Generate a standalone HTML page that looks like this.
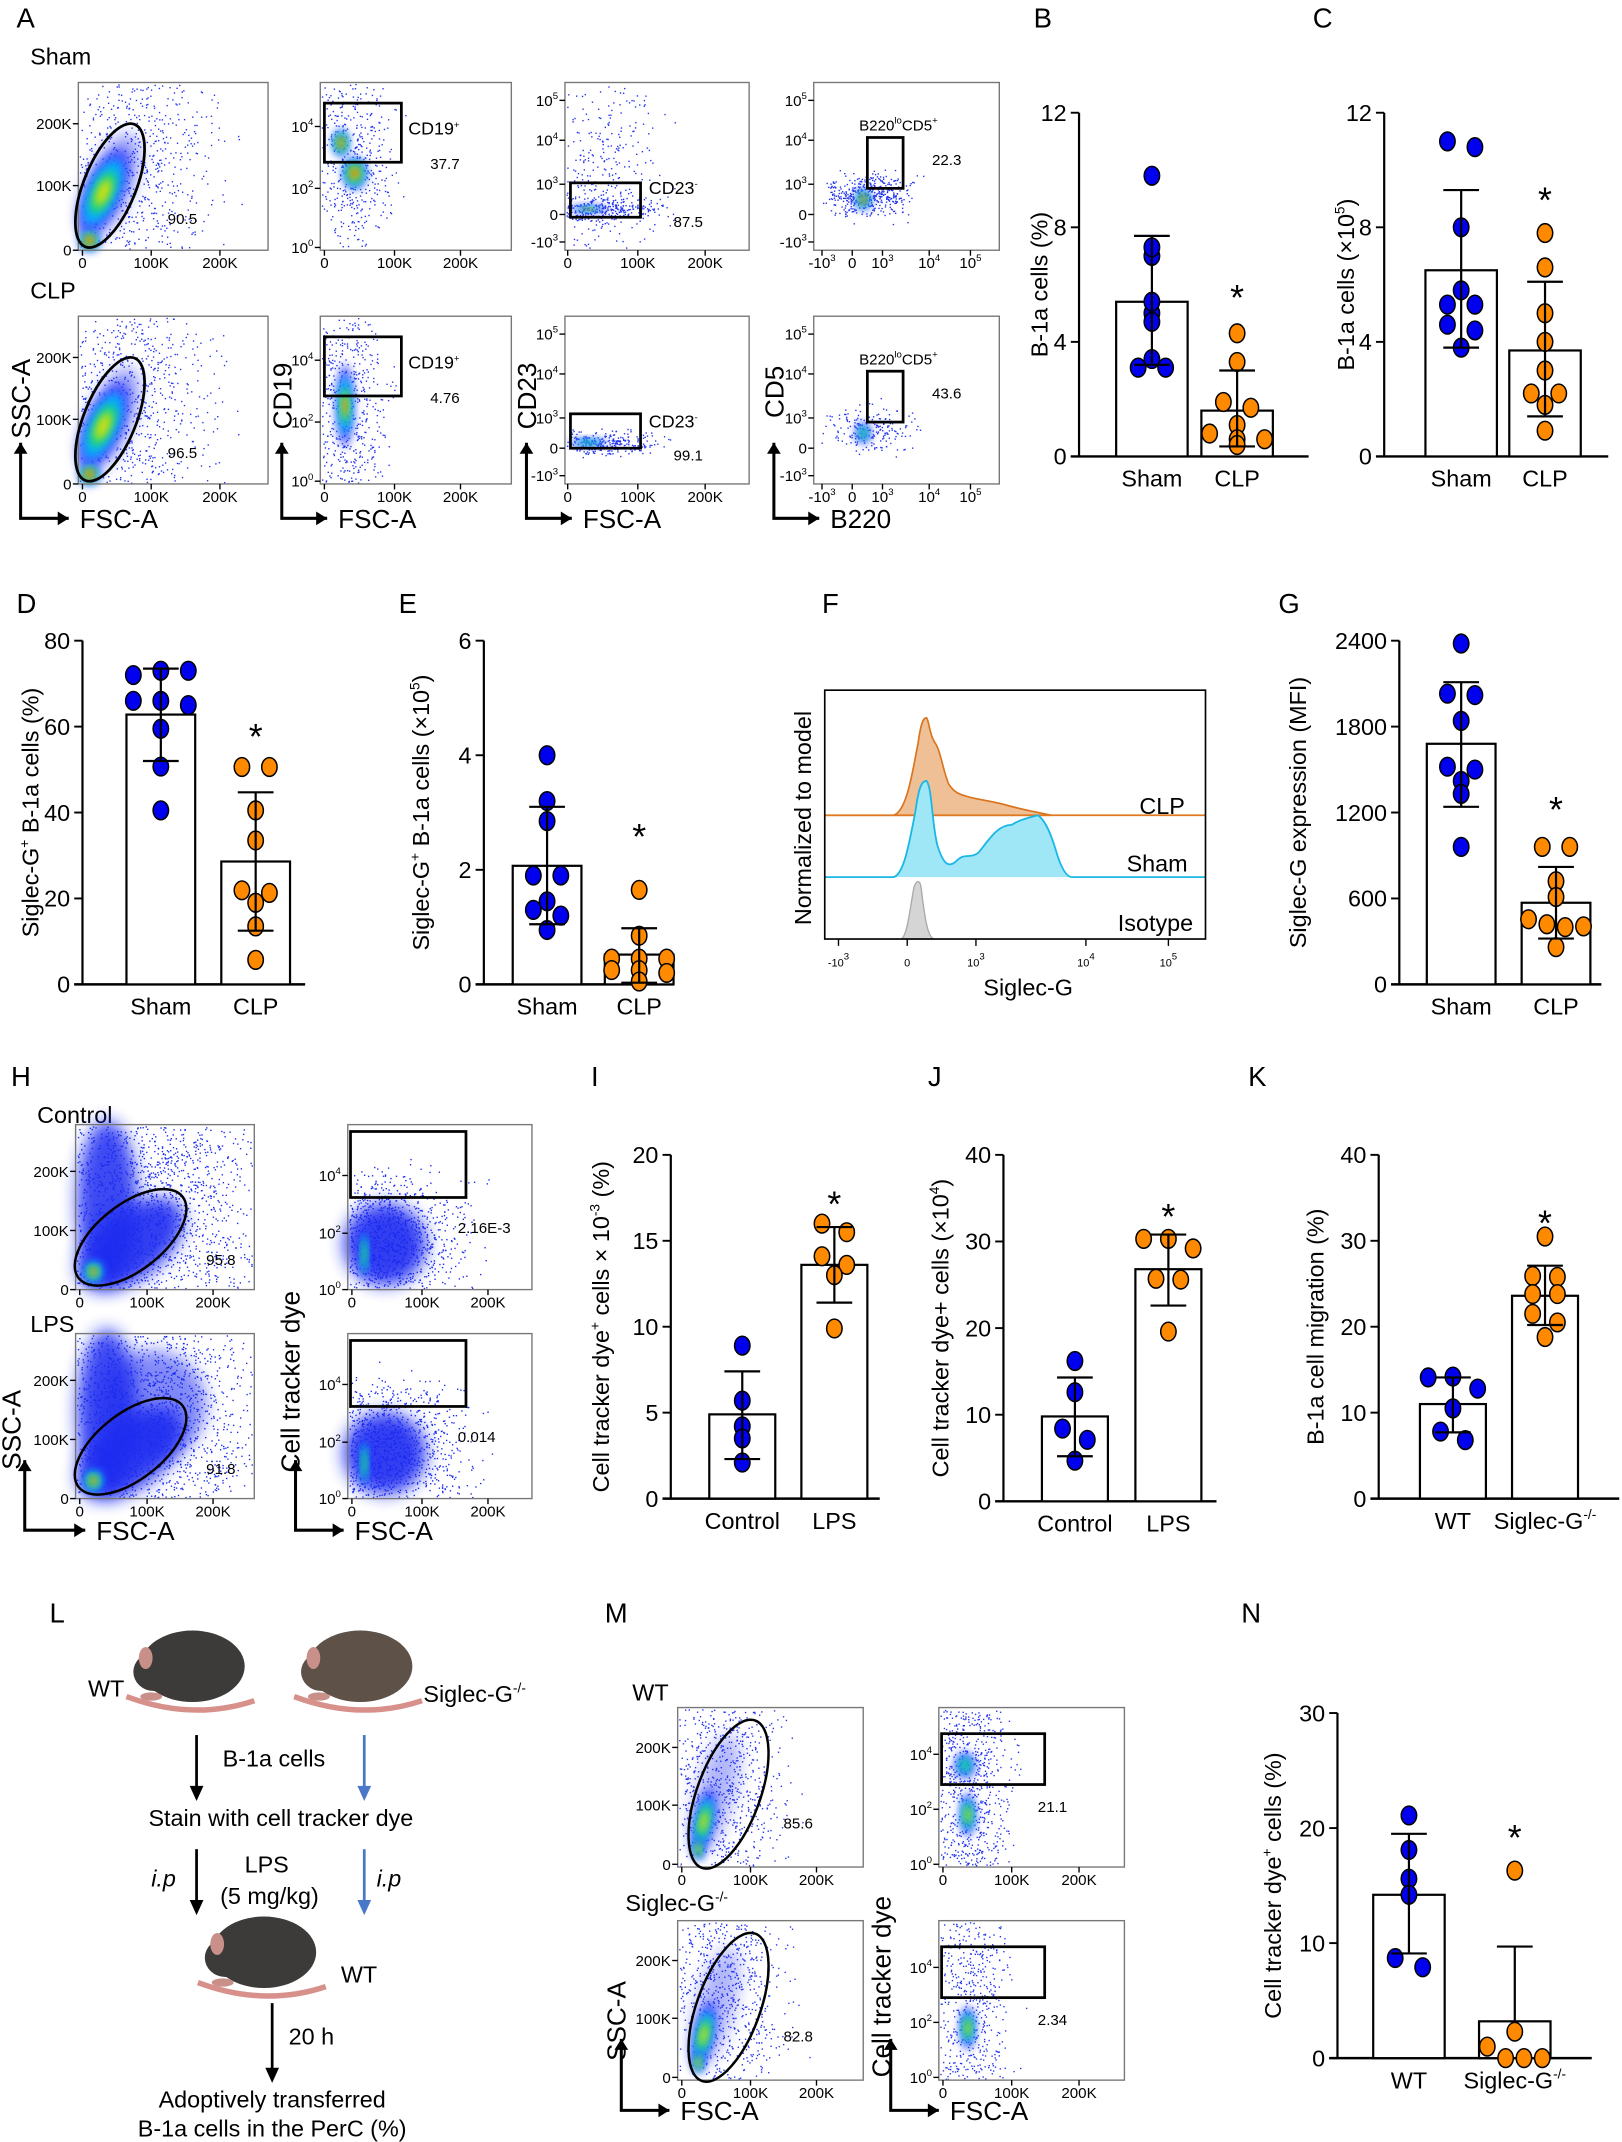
<!DOCTYPE html>
<html><head><meta charset="utf-8">
<style>
html,body{margin:0;padding:0;background:#fff;}
svg{display:block;font-family:"Liberation Sans",Arial,sans-serif;}
</style></head>
<body>
<svg id="fig" xmlns="http://www.w3.org/2000/svg" width="1622" height="2142" viewBox="0 0 1180 1558" preserveAspectRatio="none">
<defs>
<filter id="blur3" x="-50%" y="-50%" width="200%" height="200%"><feGaussianBlur stdDeviation="3"/></filter>
<filter id="blur6" x="-50%" y="-50%" width="200%" height="200%"><feGaussianBlur stdDeviation="6"/></filter>
</defs>
<g id="root"></g>
</svg>
<script>
// ---------------- DATA ----------------
const catsBC = ["Sham","CLP"];
const bSham = [9.8,7.0,7.3,5.0,5.4,4.7,3.4,3.1,3.1];
const bClp  = [4.3,3.3,1.9,1.7,1.1,0.8,0.6,0.6,0.4];
const bMean = [5.4,1.6]; const bHi=[7.7,3.0]; const bLo=[3.2,0.35];
const bTicks=[0,4,8,12];

const cSham=[11.0,10.8,8.0,5.8,5.3,5.3,4.6,4.4,3.8];
const cClp=[7.8,6.6,5.0,4.0,3.0,2.2,2.2,1.8,0.9];
const cMean=[6.5,3.7]; const cHi=[9.3,6.1]; const cLo=[3.8,1.4];
const cTicks=[0,4,8,12];

const dSham=[72,73,73,66,66,65,59.5,50.7,40.5];
const dClp=[50.6,50.6,40.5,33.5,21.9,21.3,19,13.5,5.7];
const dMean=[62.8,28.6]; const dHi=[73.5,44.7]; const dLo=[52,12.5];
const dTicks=[0,20,40,60,80];

const eSham=[4.0,3.2,2.85,1.9,1.9,1.45,1.3,1.2,0.95];
const eClp=[1.65,0.85,0.45,0.45,0.45,0.25,0.25,0.2,0.05];
const eMean=[2.07,0.52]; const eHi=[3.1,0.98]; const eLo=[1.05,0.03];
const eTicks=[0,2,4,6];

const gSham=[2380,2030,2020,1840,1520,1420,1500,1330,960];
const gClp=[960,960,720,610,455,420,400,405,260];
const gMean=[1680,570]; const gHi=[2110,820]; const gLo=[1240,320];
const gTicks=[0,600,1200,1800,2400];

const catsIJ=["Control","LPS"];
const iCtrl=[8.9,5.7,4.2,3.5,2.1];
const iLps=[16,15.5,14.1,13.6,13,9.9];
const iMean=[4.9,13.6]; const iHi=[7.4,15.8]; const iLo=[2.3,11.4];
const iTicks=[0,5,10,15,20];

const jCtrl=[16.2,12.6,8.4,7.1,4.7];
const jLps=[30.3,30.3,29.2,25.7,25.6,19.6];
const jMean=[9.8,26.8]; const jHi=[14.3,30.8]; const jLo=[5.2,22.6];
const jTicks=[0,10,20,30,40];

const catsKN=["WT","Siglec-G"];
const kWt=[14.1,14.2,12.8,10.5,7.8,6.8];
const kKo=[30.5,25.9,25.8,23.8,23.8,21.5,20.5,18.8];
const kMean=[11,23.6]; const kHi=[14.1,27.1]; const kLo=[7.7,20.2];
const kTicks=[0,10,20,30,40];

const nWt=[21.1,18.1,15.6,14.2,8.7,7.9];
const nKo=[16.3,2.3,1.0,0,0,0];
const nMean=[14.2,3.2]; const nHi=[19.5,9.7]; const nLo=[9.1,null];
const nTicks=[0,10,20,30];

// ---------------- helpers ----------------
const NS="http://www.w3.org/2000/svg";
const root=document.getElementById('root');
function mk(tag,attrs,parent,txt){const e=document.createElementNS(NS,tag);for(const k in attrs)e.setAttribute(k,attrs[k]);if(txt!==undefined)e.textContent=txt;(parent||root).appendChild(e);return e;}
function text(x,y,s,size,parent,anchor,extra){const t=mk('text',Object.assign({x:x,y:y,'font-size':size,'text-anchor':anchor||'start'},extra||{}),parent,s);return t;}

function jitter(vals,span,thr){
  const n=vals.length;const off=new Array(n).fill(0);const used=new Array(n).fill(false);
  for(let i=0;i<n;i++){if(used[i])continue;const grp=[i];used[i]=true;
    for(let j=i+1;j<n;j++){if(!used[j]&&Math.abs(vals[j]-vals[i])<=thr){grp.push(j);used[j]=true;}}
    const m=grp.length;
    if(m===2){off[grp[0]]=-span/2;off[grp[1]]=span/2;}
    if(m>=3){grp.forEach((g,k)=>{off[g]=-span+k*(2*span/(m-1));});}
  }
  return off;
}

function barChart(o){
  const g=mk('g',{});
  
  
  const y=v=>o.y0-(v/o.max)*(o.y0-o.yTop);
  const ya=mk('line',{x1:o.ax,y1:o.yTop,x2:o.ax,y2:o.y0,stroke:'#000','stroke-width':1.6},g);
  
  const xa=mk('line',{x1:o.ax-6,y1:o.y0,x2:o.xend,y2:o.y0,stroke:'#000','stroke-width':1.8},g);
  
  o.ticks.forEach(t=>{
    mk('line',{x1:o.ax-6,y1:y(t),x2:o.ax,y2:y(t),stroke:'#000','stroke-width':1.4},g);
    const tl=text(o.ax-9,y(t)+6,String(t),17,g,'end');
    
  });
  const yl=mk('text',{x:0,y:0,'font-size':17,'text-anchor':'middle',transform:`translate(${o.ylx},${(o.yTop+o.y0)/2+(o.yloff||0)}) rotate(-90)`},g);
  yl.innerHTML=o.ylabel;
  
  const cols=['#0000ee','#ff8a00'];
  o.groups.forEach((vals,gi)=>{
    const cx=o.centers[gi];const bw=o.bw;
    const bar=mk('rect',{x:cx-bw/2,y:y(o.mean[gi]),width:bw,height:o.y0-y(o.mean[gi]),fill:'#fff',stroke:'#000','stroke-width':1.6},g);
    
    const off=jitter(vals,o.jit||14,o.thr);
    vals.forEach((v,k)=>{
      const d=mk('ellipse',{cx:cx+off[k],cy:y(v),rx:5.6,ry:6.8,fill:cols[gi],stroke:'#000','stroke-width':1.1},g);
      
    });
    const hi=o.hi[gi],lo=o.lo[gi];
    const eb=mk('line',{x1:cx,y1:y(hi),x2:cx,y2:lo==null?y(o.mean[gi]):y(lo),stroke:'#000','stroke-width':1.6},g);
    
    mk('line',{x1:cx-13,y1:y(hi),x2:cx+13,y2:y(hi),stroke:'#000','stroke-width':1.6},g);
    if(lo!=null)mk('line',{x1:cx-13,y1:y(lo),x2:cx+13,y2:y(lo),stroke:'#000','stroke-width':1.6},g);
    const cl=mk('text',{x:cx,y:o.y0+22,'font-size':17,'text-anchor':'middle'},g);
    cl.innerHTML=o.cats[gi]+(o.sup&&gi===1?'<tspan font-size="10" dy="-7">-/-</tspan>':'');
    
  });
  const st=text(o.centers[1],y(o.star)+10,'*',26,g,'middle');
  
}

function panelLabel(s,x,y){const t=text(x,y,s,20,root);}

// ---------------- bar charts ----------------
barChart({name:'chart-b',ax:785,yTop:82,y0:332,max:12,ticks:bTicks,xend:952,centers:[838,900],bw:52,cats:catsBC,groups:[bSham,bClp],mean:bMean,hi:bHi,lo:bLo,ylabel:'B-1a cells (%)',ylx:762,star:5.6,thr:0.25,jit:20});
barChart({name:'chart-c',ax:1007,yTop:82,y0:332,max:12,ticks:cTicks,xend:1170,centers:[1063,1124],bw:52,cats:catsBC,groups:[cSham,cClp],mean:cMean,hi:cHi,lo:cLo,ylabel:'B-1a cells (×10<tspan font-size="10" dy="-7">5</tspan><tspan dy="7">)</tspan>',ylx:985,star:9.0,thr:0.35,jit:20});
barChart({name:'chart-d',ax:60,yTop:466,y0:716,max:80,ticks:dTicks,xend:222,centers:[117,186],bw:50,cats:catsBC,groups:[dSham,dClp],mean:dMean,hi:dHi,lo:dLo,ylabel:'Siglec-G<tspan font-size="10" dy="-7">+</tspan><tspan dy="7"> B-1a cells (%)</tspan>',ylx:28,star:58,thr:1.6,jit:20});
barChart({name:'chart-e',ax:352,yTop:466,y0:716,max:6,ticks:eTicks,xend:490,centers:[398,465],bw:50,cats:catsBC,groups:[eSham,eClp],mean:eMean,hi:eHi,lo:eLo,ylabel:'Siglec-G<tspan font-size="10" dy="-7">+</tspan><tspan dy="7"> B-1a cells (×10</tspan><tspan font-size="10" dy="-7">5</tspan><tspan dy="7">)</tspan>',ylx:312,star:2.6,thr:0.12,jit:20});
barChart({name:'chart-g',ax:1018,yTop:466,y0:716,max:2400,ticks:gTicks,xend:1165,centers:[1063,1132],bw:50,cats:catsBC,groups:[gSham,gClp],mean:gMean,hi:gHi,lo:gLo,ylabel:'Siglec-G expression (MFI)',ylx:950,star:1230,thr:60,jit:20});
barChart({name:'chart-i',ax:488,yTop:840,y0:1090,max:20,ticks:iTicks,xend:640,centers:[540,607],bw:48,cats:catsIJ,groups:[iCtrl,iLps],mean:iMean,hi:iHi,lo:iLo,ylabel:'Cell tracker dye<tspan font-size="10" dy="-7">+</tspan><tspan dy="7"> cells × 10</tspan><tspan font-size="10" dy="-7">-3</tspan><tspan dy="7"> (%)</tspan>',ylx:443,star:17.2,thr:0.6,jit:18});
barChart({name:'chart-j',ax:730,yTop:840,y0:1092,max:40,ticks:jTicks,xend:885,centers:[782,850],bw:48,cats:catsIJ,groups:[jCtrl,jLps],mean:jMean,hi:jHi,lo:jLo,ylabel:'Cell tracker dye+ cells (×10<tspan font-size="10" dy="-7">4</tspan><tspan dy="7">)</tspan>',ylx:690,star:33,thr:1.4,jit:18});
barChart({name:'chart-k',ax:1003,yTop:840,y0:1090,max:40,ticks:kTicks,xend:1178,centers:[1057,1124],bw:48,cats:catsKN,sup:true,groups:[kWt,kKo],mean:kMean,hi:kHi,lo:kLo,ylabel:'B-1a cell migration (%)',ylx:963,star:32.2,thr:1.5,jit:18});
barChart({name:'chart-n',ax:973,yTop:1246,y0:1497,max:30,ticks:nTicks,xend:1158,centers:[1025,1102],bw:52,cats:catsKN,sup:true,groups:[nWt,nKo],mean:nMean,hi:nHi,lo:nLo,ylabel:'Cell tracker dye<tspan font-size="10" dy="-7">+</tspan><tspan dy="7"> cells (%)</tspan>',ylx:932,star:19.3,thr:1.0,jit:20});

[['A',12,20],['B',752,20],['C',955,20],['D',12,446],['E',290,446],['F',598,446],['G',930,446],['H',8,790],['I',430,790],['J',675,790],['K',908,790],['L',36,1180],['M',440,1180],['N',903,1180]].forEach(p=>panelLabel(p[0],p[1],p[2]));

// ---------------- flow plots ----------------
let seed=7;function rnd(){seed=(seed*1103515245+12345)%2147483648;return seed/2147483648;}
function scatter(g,x0,y0,w,h,cx,cy,sx,sy,n,col){
  for(let i=0;i<n;i++){const u=(rnd()+rnd()+rnd()-1.5)*sx,v=(rnd()+rnd()+rnd()-1.5)*sy;
    const px=cx+u,py=cy+v;if(px<x0+1||px>x0+w-1||py<y0+1||py>y0+h-1)continue;
    mk('rect',{x:px,y:py,width:1,height:1,fill:col},g);}
}
function blob(g,cx,cy,rx,ry,rot,layers){
  const cs=['#3344ff','#00b4ff','#22dd66','#f0e000','#ff2000'];
  layers.forEach((s,k)=>{mk('ellipse',{cx:cx,cy:cy,rx:rx*s,ry:ry*s,transform:`rotate(${rot} ${cx} ${cy})`,fill:cs[k],opacity:k===0?0.75:0.9,filter:'url(#blur3)'},g);});
}
function blueFill(g,cx,cy,rx,ry,rot,op){mk('ellipse',{cx:cx,cy:cy,rx:rx,ry:ry,transform:`rotate(${rot} ${cx} ${cy})`,fill:'#1a2cf0',opacity:op,filter:'url(#blur6)'},g);}
function flowFrame(name){const g=mk('g',{});return g;}
function drawFrame(g,x,y,w,h){mk('rect',{x:x,y:y,width:w,height:h,fill:'none',stroke:'#777','stroke-width':1},g);}
function ticksY(g,x,labels){labels.forEach(l=>{mk('line',{x1:x-4,y1:l[1],x2:x,y2:l[1],stroke:'#000','stroke-width':1},g);const t=mk('text',{x:x-5,y:l[1]+4,'font-size':11,'text-anchor':'end'},g);t.innerHTML=l[0];});}
function ticksX(g,y,labels){labels.forEach(l=>{mk('line',{x1:l[1],y1:y,x2:l[1],y2:y+4,stroke:'#000','stroke-width':1},g);const t=mk('text',{x:l[1],y:y+13,'font-size':11,'text-anchor':'middle'},g);t.innerHTML=l[0];});}
const P='<tspan font-size="7" dy="-5">';const E='</tspan><tspan dy="5"></tspan>';
function axArrow(g,x,yTop,yB,xR,lab1,size){
  mk('path',{d:`M${x},${yTop} L${x},${yB} L${xR},${yB}`,fill:'none',stroke:'#000','stroke-width':2.2},g);
  mk('path',{d:`M${x-5},${yTop+8} L${x},${yTop} L${x+5},${yTop+8} z`,fill:'#000'},g);
  mk('path',{d:`M${xR-8},${yB-5} L${xR},${yB} L${xR-8},${yB+5} z`,fill:'#000'},g);
  text(xR+8,yB+7,lab1,size||19,g);
}
function ylab(g,x,y,s,size){mk('text',{x:0,y:0,'font-size':size||19,'text-anchor':'middle',transform:`translate(${x},${y}) rotate(-90)`},g,s);}

// Panel A
text(22,47,'Sham',17,root);
text(22,217,'CLP',17,root);
[0,170].forEach((dy,row)=>{
  let g=flowFrame('flow-ssc-fsc');
  scatter(g,57,60+dy,138,122,95,125+dy,60,90,900,'#2233ee');
  blueFill(g,80,135+dy,16,40,22,0.5);
  blob(g,75,140+dy,14,34,25,[1,0.75,0.5,0.3]);blob(g,65,175+dy,8,8,0,[1,0.8,0.6,0.45,0.3]);
  drawFrame(g,57,60+dy,138,122);
  mk('ellipse',{cx:80,cy:135+dy,rx:19,ry:48,transform:`rotate(22 80 ${135+dy})`,fill:'none',stroke:'#000','stroke-width':2},g);
  text(122,163+dy,row?'96.5':'90.5',11,g);
  ticksY(g,57,[['200K',90+dy],['100K',135+dy],['0',182+dy]]);
  ticksX(g,182+dy,[['0',60],['100K',110],['200K',160]]);
  g=flowFrame('flow-cd19');
  if(!row){scatter(g,233,60+dy,139,122,255,120+dy,30,60,500,'#2233ee');blob(g,248,104+dy,6,10,0,[1,0.8,0.6,0.4,0.25]);blob(g,258,126+dy,9,12,0,[1,0.8,0.6,0.4,0.25]);}
  else{scatter(g,233,60+dy,139,122,253,295,28,80,600,'#2233ee');blob(g,251,295,7,30,0,[1,0.7,0.45,0.3,0.15]);}
  drawFrame(g,233,60+dy,139,122);
  mk('rect',{x:236,y:75+dy,width:56,height:43,fill:'none',stroke:'#000','stroke-width':2},g);
  const c19=text(297,98+dy,'CD19',13,g);c19.innerHTML='CD19'+P+'+</tspan>';
  text(313,123+dy,row?'4.76':'37.7',11,g);
  ticksY(g,233,[['10'+P+'4'+E,92+dy],['10'+P+'2'+E,137+dy],['10'+P+'0'+E,180+dy]]);
  ticksX(g,182+dy,[['0',236],['100K',287],['200K',335]]);
  g=flowFrame('flow-cd23');
  if(!row){scatter(g,411,60+dy,134,122,440,130+dy,40,70,350,'#2233ee');}
  scatter(g,411,60+dy,134,122,440,152+dy,40,8,300,'#2233ee');
  blob(g,428,152+dy,14,3,0,row?[1,0.7,0.4]:[1,0.6,0.4,0.3,0.2]);
  drawFrame(g,411,60+dy,134,122);
  mk('rect',{x:415,y:133+dy-(row?2:0),width:51,height:25,fill:'none',stroke:'#000','stroke-width':2},g);
  const c23=text(472,141+dy,'',13,g);c23.innerHTML='CD23'+P+'-</tspan>';
  text(490,165+dy,row?'99.1':'87.5',11,g);
  ticksY(g,411,[['10'+P+'5'+E,73+dy],['10'+P+'4'+E,102+dy],['10'+P+'3'+E,134+dy],['0',156+dy],['-10'+P+'3'+E,176+dy]]);
  ticksX(g,182+dy,[['0',413],['100K',464],['200K',513]]);
  g=flowFrame('flow-b220-cd5');
  scatter(g,592,60+dy,135,122,632,142+dy,30,16,row?200:450,'#2233ee');
  blob(g,628,145+dy,6,8,0,row?[1,0.6,0.4]:[1,0.7,0.5,0.35,0.25]);
  drawFrame(g,592,60+dy,135,122);
  mk('rect',{x:631,y:100+dy,width:26,height:37,fill:'none',stroke:'#000','stroke-width':2},g);
  const bc=text(625,95+dy,'',11,g);bc.innerHTML='B220'+P+'lo</tspan><tspan dy="5">CD5</tspan>'+P+'+</tspan>';
  text(678,120+dy,row?'43.6':'22.3',11,g);
  ticksY(g,592,[['10'+P+'5'+E,73+dy],['10'+P+'4'+E,102+dy],['10'+P+'3'+E,134+dy],['0',156+dy],['-10'+P+'3'+E,176+dy]]);
  ticksX(g,182+dy,[['-10'+P+'3'+E,598],['0',620],['10'+P+'3'+E,642],['10'+P+'4'+E,676],['10'+P+'5'+E,706]]);
});
{const g=mk('g',{});
 axArrow(g,15,322,377,50,'FSC-A');ylab(g,22,290,'SSC-A');
 axArrow(g,205,322,377,238,'FSC-A');ylab(g,212,288,'CD19');
 axArrow(g,383,322,377,416,'FSC-A');ylab(g,390,288,'CD23');
 axArrow(g,563,322,377,596,'B220');ylab(g,570,285,'CD5');}

// Panel F histogram
{const g=mk('g',{});
 const x0=600,x1=877,yT=502,yB=683;
 mk('path',{d:'M600,593 L650,593 C660,590 664,560 668,540 C670,525 672,522 674,522 C676,524 676,534 680,540 C684,545 686,560 690,570 C695,578 700,578 706,580 C715,582 722,583 730,585 C740,588 750,590 765,593 Z',fill:'#efbf95',stroke:'#d9731e','stroke-width':1.2},g);
 mk('line',{x1:600,y1:593,x2:877,y2:593,stroke:'#e07a22','stroke-width':1.3},g);
 mk('path',{d:'M600,638 L650,638 C658,636 662,610 666,590 C668,575 670,568 674,568 C678,572 678,600 682,615 C686,628 690,632 696,626 C702,620 706,625 712,620 C720,610 726,600 736,600 C742,596 748,595 755,593 C760,596 764,605 768,618 C772,632 776,638 780,638 L877,638',fill:'#9fe6f7',stroke:'#19b7e6','stroke-width':1.3},g);
 mk('path',{d:'M655,683 C660,683 662,660 665,645 C667,640 669,640 670,645 C672,660 674,683 680,683 Z',fill:'#d5d5d5',stroke:'#aaa','stroke-width':1},g);
 mk('rect',{x:x0,y:yT,width:x1-x0,height:yB-yT,fill:'none',stroke:'#000','stroke-width':1.2},g);
 text(862,592,'CLP',17,g,'end');text(864,634,'Sham',17,g,'end');text(868,677,'Isotype',17,g,'end');
 [['-10'+P+'3'+E,610],['0',660],['10'+P+'3'+E,710],['10'+P+'4'+E,790],['10'+P+'5'+E,850]].forEach(l=>{const t=mk('text',{x:l[1],y:703,'font-size':8,'text-anchor':'middle'},g);t.innerHTML=l[0];mk('line',{x1:l[1],y1:683,x2:l[1],y2:688,stroke:'#000'},g);});
 text(748,724,'Siglec-G',17,g,'middle');ylab(g,590,595,'Normalized to model',17);}

// Panel H
text(27,817,'Control',17,root);
text(22,969,'LPS',17,root);
[0,152].forEach((dy,row)=>{
  let g=flowFrame('flow-h-ssc-fsc');
  scatter(g,55,818+dy,130,120,100,880+dy,90,110,2500,'#1a2cf0');
  blueFill(g,78,875+dy,22,60,0,0.85);
  blueFill(g,95,905+dy,45,25,-38,0.9);
  if(row)blueFill(g,110,870+dy,40,40,0,0.55);
  blob(g,68,925+dy,8,9,0,[1,0.8,0.55,0.35,0.2]);
  drawFrame(g,55,818+dy,130,120);
  mk('ellipse',{cx:95,cy:900+dy,rx:48,ry:24,transform:`rotate(-38 95 ${900+dy})`,fill:'none',stroke:'#000','stroke-width':1.8},g);
  text(150,920+dy,row?'91.8':'95.8',11,g);
  ticksY(g,55,[['200K',852+dy],['100K',895+dy],['0',938+dy]]);
  ticksX(g,938+dy,[['0',58],['100K',107],['200K',155]]);
  g=flowFrame('flow-h-tracker');
  scatter(g,253,818+dy,134,120,275,905+dy,60,50,1500,'#1a2cf0');
  blueFill(g,280,905+dy,30,30,0,0.9);
  blob(g,265,912+dy,3,18,0,[1,0.8,0.6]);
  drawFrame(g,253,818+dy,134,120);
  mk('rect',{x:255,y:823+dy,width:84,height:48,fill:'none',stroke:'#000','stroke-width':2},g);
  text(333,897+dy,row?'0.014':'2.16E-3',11,g);
  ticksY(g,253,[['10'+P+'4'+E,855+dy],['10'+P+'2'+E,897+dy],['10'+P+'0'+E,938+dy]]);
  ticksX(g,938+dy,[['0',256],['100K',307],['200K',355]]);
});
{const g=mk('g',{});
 axArrow(g,18,1062,1113,62,'FSC-A');ylab(g,15,1040,'SSC-A');
 axArrow(g,215,1062,1113,250,'FSC-A');ylab(g,218,1005,'Cell tracker dye');}

// Panel M
text(460,1237,'WT',17,root);
const mko=text(455,1390,'',17,root);mko.innerHTML='Siglec-G<tspan font-size="10" dy="-7">-/-</tspan>';
[0,155].forEach((dy,row)=>{
  let g=flowFrame('flow-m-ssc-fsc');
  scatter(g,493,1242+dy,135,116,525,1300+dy,45,110,1100,'#2233ee');
  blueFill(g,520,1305+dy,14,45,15,0.35);
  blob(g,512,1325+dy,8,25,12,[1,0.7,0.5,0.3]);blob(g,508,1345+dy,4,8,0,[1,0.8,0.6,0.45]);
  drawFrame(g,493,1242+dy,135,116);
  mk('ellipse',{cx:530,cy:1305+dy,rx:23,ry:57,transform:`rotate(20 530 ${1305+dy})`,fill:'none',stroke:'#000','stroke-width':1.8},g);
  text(570,1330+dy,row?'82.8':'85.6',11,g);
  ticksY(g,493,[['200K',1271+dy],['100K',1313+dy],['0',1356+dy]]);
  ticksX(g,1358+dy,[['0',496],['100K',546],['200K',594]]);
  g=flowFrame('flow-m-tracker');
  scatter(g,683,1242+dy,135,116,705,1305+dy,30,100,row?700:1000,'#2233ee');
  blob(g,704,1320+dy,6,16,0,[1,0.7,0.5,0.3]);
  if(!row)blob(g,702,1284,8,10,0,[1,0.6,0.4]);
  drawFrame(g,683,1242+dy,135,116);
  mk('rect',{x:685,y:1261+dy,width:75,height:37,fill:'none',stroke:'#000','stroke-width':2},g);
  text(755,1318+dy,row?'2.34':'21.1',11,g);
  ticksY(g,683,[['10'+P+'4'+E,1276+dy],['10'+P+'2'+E,1316+dy],['10'+P+'0'+E,1356+dy]]);
  ticksX(g,1358+dy,[['0',686],['100K',736],['200K',785]]);
});
{const g=mk('g',{});
 axArrow(g,452,1483,1535,487,'FSC-A');ylab(g,455,1470,'SSC-A');
 axArrow(g,648,1483,1535,683,'FSC-A');ylab(g,648,1445,'Cell tracker dye');}

// Panel L schematic
function mouse(cx,cy,col,name){const g=mk('g',{});
 mk('path',{d:`M${cx-48},${cy+22} Q${cx},${cy+40} ${cx+45},${cy+25}`,fill:'none',stroke:'#d7908a','stroke-width':4},g);
 mk('ellipse',{cx:cx,cy:cy,rx:38,ry:26,fill:col},g);
 mk('ellipse',{cx:cx-28,cy:cy+4,rx:15,ry:14,fill:col},g);
 mk('ellipse',{cx:cx-34,cy:cy-6,rx:5,ry:8,fill:'#c89088'},g);
 mk('ellipse',{cx:cx-30,cy:cy+22,rx:8,ry:3,fill:'#c89088'},g);
 return g;}
mouse(140,1212,'#3d3b39','mouse-wt');mouse(262,1212,'#5d5148','mouse-siglec-g-ko');mouse(192,1420,'#3d3b39','mouse-recipient-wt');
{const g=mk('g',{});
 text(64,1234,'WT',17,g);const s=text(308,1238,'',17,g);s.innerHTML='Siglec-G<tspan font-size="10" dy="-7">-/-</tspan>';
 function arr(x,y1,y2,c){mk('line',{x1:x,y1:y1,x2:x,y2:y2-10,stroke:c,'stroke-width':2},g);mk('path',{d:`M${x-5},${y2-11} L${x},${y2} L${x+5},${y2-11} z`,fill:c},g);}
 arr(143,1262,1310,'#000');arr(265,1262,1310,'#4a78c8');
 text(162,1285,'B-1a cells',17,g);text(108,1328,'Stain with cell tracker dye',17,g);
 arr(143,1345,1393,'#000');arr(265,1345,1393,'#4a78c8');
 text(110,1372,'i.p',17,g,'start',{'font-style':'italic'});text(274,1372,'i.p',17,g,'start',{'font-style':'italic'});
 text(194,1362,'LPS',17,g,'middle');text(196,1385,'(5 mg/kg)',17,g,'middle');
 text(248,1442,'WT',17,g);
 arr(198,1457,1515,'#000');text(210,1487,'20 h',17,g);
 text(198,1533,'Adoptively transferred',17,g,'middle');text(198,1554,'B-1a cells in the PerC (%)',17,g,'middle');}
</script>
</body></html>
